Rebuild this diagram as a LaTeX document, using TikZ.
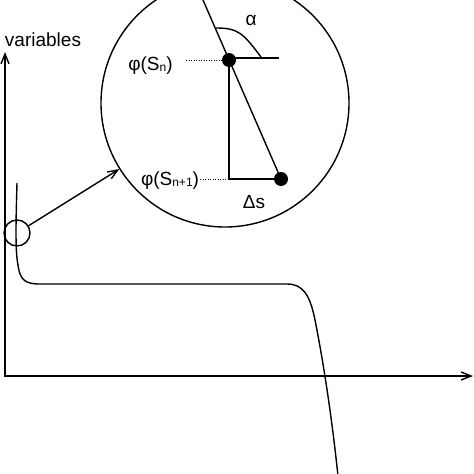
\documentclass[tikz,border=0pt]{standalone}
\usepackage{fontspec}
\setmainfont{Liberation Sans}
\usetikzlibrary{arrows.meta}
\newcommand\lowsub[1]{\raisebox{-1pt}{\fontsize{12}{12}\selectfont #1}}
\begin{document}
\begin{tikzpicture}[x=1pt,y=-1pt,line width=1.4pt,
  lbl/.style={font=\fontsize{19}{19}\selectfont, inner sep=0pt, anchor=base},
  dot/.style={circle, fill=black, inner sep=0pt, minimum size=14pt},
  ring/.style={circle, draw, inner sep=0pt},
  barb/.style={-{Straight Barb[length=10pt,width=8pt]}},
  fine/.style={line width=1pt, dash pattern=on 1pt off 1.5pt}]
\useasboundingbox (0,0) rectangle (474,474);
\clip (0,0) rectangle (474,474);
% axes
\coordinate (o) at (5,376);
\coordinate (ybot) at (5,377);
\coordinate (yend) at (5,52);
\coordinate (xend) at (473,376);
\draw[barb] (ybot) -- (yend);
\draw[barb] (o) -- (xend);
\node[lbl] (vars) at (43,46) {variables};
% curve
\draw (17,183) .. controls (16,220) and (15,250) .. (18,265)
  .. controls (20,280) and (25,284) .. (40,284) -- (287,284)
  .. controls (303,284) and (310,295) .. (315,320)
  .. controls (320,345) and (330,400) .. (338,476);
% circles
\node[ring, minimum size=26pt] (zc) at (17,233) {};
\node[ring, minimum size=248pt] (bc) at (225,103) {};
\draw[barb] (zc) -- (bc);
% inset
\node[dot] (A) at (229,60) {};
\node[dot] (B) at (281,179) {};
\coordinate (top) at (203,0);
\coordinate (C) at (229,179);
\coordinate (hl) at (229,58);
\coordinate (hr) at (279,58);
\draw (top) -- (B.center);
\draw (A.center) -- (C) -- (B.center);
\draw (hl) -- (hr);
\coordinate (a1) at (216,28);
\coordinate (a2) at (261,57);
\draw (a1) .. controls (238,28) and (243,33) .. (a2);
\coordinate (d1) at (186,60);
\coordinate (d2) at (200,179);
\draw[fine] (d1) -- (A);
\draw[fine] (d2) -- (C);
\node[lbl] (alpha) at (251,25) {α};
\node[lbl] (phin) at (150.5,70) {φ(S\lowsub{n})};
\node[lbl] (phin1) at (170,185) {φ(S\lowsub{n+1})};
\node[lbl] (ds) at (254,208) {Δs};
\end{tikzpicture}
\end{document}
